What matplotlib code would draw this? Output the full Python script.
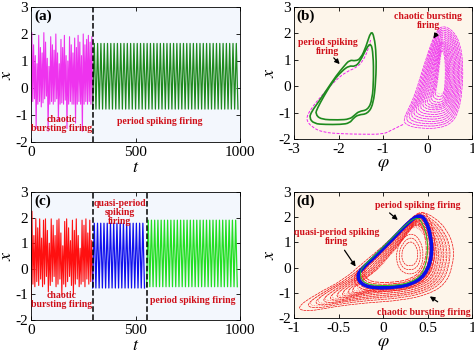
import numpy as np
import matplotlib
matplotlib.use('Agg')
from matplotlib import pyplot as plt
from matplotlib.path import Path
import matplotlib.patches as mpatches

plt.rcParams['font.family'] = ['Liberation Serif', 'DejaVu Serif']
plt.rcParams['mathtext.fontset'] = 'stix'
plt.rcParams['font.size'] = 11

# ---- panel (a): time series ----
a_chaos_peaks = [2.05, 1.6, 1.2, 0.9, 1.95, 1.5, 1.3, 2.05, 1.7, 1.1, 0.8, 1.9, 1.6, 1.4, 2.0, 1.3,
                 0.9, 1.8, 1.5, 1.95, 1.2, 1.0, 1.9, 1.6, 1.3, 1.85, 1.5, 1.95, 1.7, 1.2, 2.0, 1.6,
                 1.8, 1.95, 1.7, 1.9]
a_chaos_troughs = [-0.6, -0.5, -0.4, -1.5, -0.6, -0.5, -0.7, -0.55, -0.4, -0.3, -1.6, -0.6, -0.5, -0.6,
                   -0.5, -0.4, -1.2, -0.6, -0.55, -0.6, -0.45, -1.5, -0.6, -0.5, -0.6, -0.6, -1.3, -0.6,
                   -0.5, -0.6, -1.6, -0.6, -0.5, -0.6, -0.5, -0.6]
a_switch = 295
a_spike = {'period': 15.8, 'peak': 1.65, 'trough': -0.78}

# ---- panel (c): time series ----
c_chaos_peaks = [2.25, 1.3, 1.95, 1.6, 1.95, 1.2, 1.9, 1.95, 1.5, 1.0, 1.95, 1.7, 1.3, 1.9, 1.95, 1.4,
                 0.9, 1.85, 1.95, 1.6, 1.1, 1.9, 1.5, 1.95, 1.3, 0.8, 1.9, 1.7, 1.95, 1.4, 1.9, 1.1]
c_chaos_troughs = [-1.5, -0.6, -0.7, -0.5, -0.65, -0.4, -0.7, -0.6, -0.3, -0.9, -0.65, -0.5, -0.3, -0.7,
                   -0.6, -0.4, -1.0, -0.6, -0.7, -0.5, -0.3, -0.65, -1.0, -0.6, -0.4, -0.7, -0.6, -0.5,
                   -0.7, -0.4, -0.6, -0.5]
c_switch1 = 295
c_switch2 = 553
c_quasi = {'period': 15.5, 'peak': 1.78, 'trough': -0.75}
c_period = {'period': 15.5, 'peak': 1.9, 'trough': -0.7}

# ---- panel (b): phase portrait ----
b_green_outer_phi = [-2.66, -2.55, -2.3, -1.95, -1.75, -1.66, -1.55, -1.35, -1.22, -1.16, -1.15, -1.2,
                     -1.27, -1.38, -1.5, -1.62, -1.75, -1.88, -2.05, -2.25, -2.45, -2.6]
b_green_outer_x = [-1.2, -1.42, -1.45, -1.45, -1.4, -1.2, -1.08, -1.05, -0.7, 0.2, 1.2, 1.9,
                   2.1, 1.5, 1.05, 0.95, 1.0, 0.75, 0.4, -0.1, -0.6, -0.95]
b_green_inner_phi = [-2.52, -2.4, -2.0, -1.75, -1.64, -1.54, -1.34, -1.24, -1.21, -1.22, -1.27,
                     -1.37, -1.52, -1.63, -1.76, -1.92, -2.12, -2.32, -2.48]
b_green_inner_x = [-1.05, -1.26, -1.28, -1.25, -1.1, -0.95, -0.9, -0.5, 0.3, 1.2, 1.65,
                   1.45, 0.92, 0.74, 0.78, 0.58, 0.2, -0.35, -0.85]
b_trans_phi = [-0.55, -0.85, -1.0, -1.5, -1.95, -2.35, -2.6, -2.74, -2.62, -2.35, -2.05, -1.82,
               -1.6, -1.45, -1.33, -1.28]
b_trans_x = [-1.45, -1.7, -1.82, -1.82, -1.8, -1.75, -1.55, -1.25, -0.85, -0.3, 0.25, 0.55,
             0.7, 0.95, 1.4, 1.75]
b_chaos_phi = [0.35, 0.58, 0.74, 0.8, 0.78, 0.7, 0.55, 0.25, -0.15, -0.45, -0.55, -0.44, -0.3,
               -0.17, -0.04, 0.08, 0.2]
b_chaos_x = [2.3, 2.1, 1.6, 0.8, -0.2, -0.95, -1.4, -1.6, -1.6, -1.5, -1.3, -0.9, -0.4, 0.3,
             1.0, 1.6, 2.1]
b_loop_sx = [1.0, 0.93, 0.86, 0.8, 0.74, 0.68, 0.62, 0.56, 0.5, 0.44, 0.38, 0.32, 0.27, 0.22, 0.17]
b_loop_sy = [1.0, 0.96, 0.92, 0.88, 0.84, 0.8, 0.76, 0.72, 0.68, 0.65, 0.62, 0.59, 0.55, 0.5, 0.45]

# ---- panel (d): phase portrait ----
d_blue_phi = [-0.29, -0.25, -0.1, 0.15, 0.32, 0.47, 0.55, 0.54, 0.48, 0.41, 0.3, 0.1, -0.1, -0.23]
d_blue_x = [-0.3, -0.66, -0.82, -0.78, -0.66, -0.32, 0.4, 1.25, 1.9, 2.1, 1.85, 1.1, 0.4, -0.02]
d_green_phi = [-0.26, -0.22, -0.08, 0.15, 0.3, 0.44, 0.5, 0.5, 0.44, 0.39, 0.28, 0.08, -0.12, -0.24]
d_green_x = [-0.28, -0.6, -0.72, -0.7, -0.6, -0.3, 0.4, 1.2, 1.8, 2.0, 1.8, 1.1, 0.4, 0.0]
d_chaos_phi = [0.42, 0.58, 0.72, 0.8, 0.78, 0.7, 0.52, 0.22, -0.2, -0.55, -0.85, -0.98, -0.75, -0.45,
               -0.22, 0.05, 0.26]
d_chaos_x = [2.25, 2.0, 1.5, 0.8, 0.0, -0.65, -1.05, -1.3, -1.4, -1.55, -1.75, -1.6, -1.05, -0.5,
             0.2, 1.0, 1.75]
d_loop_sx = [1.0, 0.92, 0.85, 0.78, 0.72, 0.66, 0.61, 0.56, 0.52]
d_loop_sy = [1.0, 0.95, 0.9, 0.86, 0.82, 0.78, 0.75, 0.72, 0.69]
d_ring_phi = [0.32, 0.42, 0.46, 0.42, 0.3, 0.18, 0.14, 0.2]
d_ring_x = [1.4, 1.1, 0.5, -0.1, -0.3, -0.1, 0.5, 1.1]
d_ring_scale = [1.0, 0.8, 0.6]
d_hug_scale = [1.1, 1.05, 1.0, 0.95, 0.9, 0.85]


def zigzag(t, peaks, troughs):
    tt, xx = [], []
    step = (t[1] - t[0]) / (2 * len(peaks))
    for i, (p, q) in enumerate(zip(peaks, troughs)):
        tt += [t[0] + (2 * i) * step, t[0] + (2 * i + 1) * step]
        xx += [q, p]
    tt.append(t[1])
    xx.append(troughs[-1])
    return tt, xx


def spike_train(t0, t1, spec):
    n = int((t1 - t0) / spec['period'])
    tt, xx = [t0], [spec['trough']]
    for i in range(n):
        tt += [t0 + (i + 0.5) * spec['period'], t0 + (i + 1) * spec['period']]
        xx += [spec['peak'], spec['trough']]
    return tt, xx


def smooth_loop(ax, px, py, closed=True, **kw):
    pts = list(zip(px, py))
    n = len(pts)
    mid = lambda p, q: ((p[0] + q[0]) / 2, (p[1] + q[1]) / 2)
    if closed:
        verts = [mid(pts[-1], pts[0])]
        codes = [Path.MOVETO]
        for i in range(n):
            verts += [pts[i], mid(pts[i], pts[(i + 1) % n])]
            codes += [Path.CURVE3, Path.CURVE3]
    else:
        verts = [pts[0]]
        codes = [Path.MOVETO]
        for i in range(1, n - 1):
            verts += [pts[i], mid(pts[i], pts[i + 1])]
            codes += [Path.CURVE3, Path.CURVE3]
        verts.append(pts[-1])
        codes.append(Path.LINETO)
    ax.add_patch(mpatches.PathPatch(Path(verts, codes), fill=False, **kw))


def style_axes(ax, xlim, xticks, xlabel, bg):
    ax.set_facecolor(bg)
    ax.set_xlim(*xlim)
    ax.set_ylim(-2, 3)
    ax.set_xticks(xticks)
    ax.set_yticks([-2, -1, 0, 1, 2, 3])
    ax.tick_params(direction='in', length=3, width=0.6, top=True, right=True, labelsize=11, pad=2)
    ax.tick_params(axis='x', pad=3)
    for s in ax.spines.values():
        s.set_linewidth(0.6)
    ax.set_xlabel(xlabel, fontsize=13, labelpad=0)
    ax.set_ylabel('$x$', fontsize=13, labelpad=0)


fig = plt.figure(figsize=(4.74, 3.53), dpi=100)
W, H = 474, 353
def add_ax(l, t, r, b):
    return fig.add_axes([l / W, 1 - b / H, (r - l) / W, (b - t) / H])

axA = add_ax(31, 7, 240, 142)
axB = add_ax(294, 7, 472, 139)
axC = add_ax(31, 192, 240, 320)
axD = add_ax(294, 192, 472, 318)

txt = dict(color='#d0101a', fontweight='bold', fontsize=7, ha='center', va='center', linespacing=1.0)
blue_bg = '#f3f7fd'
beige_bg = '#fdf5ea'

# (a)
t, x = zigzag((0, a_switch), a_chaos_peaks, a_chaos_troughs)
axA.plot(t, x, color='#ee33ee', lw=0.8)
t, x = spike_train(a_switch, 1000, a_spike)
axA.plot(t, x, color='#1e8a1e', lw=0.9)
axA.axvline(a_switch, color='k', ls='--', lw=1.1)
style_axes(axA, (0, 1000), [0, 500, 1000], '$t$', blue_bg)
axA.text(147, -1.34, 'chaotic\nbursting firing', **txt)
axA.text(617, -1.25, 'period spiking firing', **txt)
axA.text(0.015, 0.98, '(a)', transform=axA.transAxes, fontweight='bold', va='top', fontsize=11)

# (c)
t, x = zigzag((0, c_switch1), c_chaos_peaks, c_chaos_troughs)
axC.plot(t, x, color='#ff1010', lw=0.8)
t, x = spike_train(c_switch1, c_switch2, c_quasi)
axC.plot(t, x, color='#1010ee', lw=0.9)
t, x = spike_train(c_switch2, 1000, c_period)
axC.plot(t, x, color='#22e022', lw=0.9)
axC.axvline(c_switch1, color='k', ls='--', lw=1.1)
axC.axvline(c_switch2, color='k', ls='--', lw=1.1)
style_axes(axC, (0, 1000), [0, 500, 1000], '$t$', blue_bg)
axC.text(147, -1.22, 'chaotic\nbursting firing', **txt)
axC.text(424, 2.2, 'quasi-period\nspiking\nfiring', **txt)
axC.text(772, -1.22, 'period spiking firing', **txt)
axC.text(0.015, 0.98, '(c)', transform=axC.transAxes, fontweight='bold', va='top', fontsize=11)

# (b)
smooth_loop(axB, b_trans_phi, b_trans_x, closed=False, color='#ee22ee', lw=0.7, ls=(0, (3, 1.5)))
for sx, sy in zip(b_loop_sx, b_loop_sy):
    px = [0.32 + sx * (p - 0.32) for p in b_chaos_phi]
    py = [0.6 + sy * (v - 0.6) for v in b_chaos_x]
    smooth_loop(axB, px, py, color='#ee22ee', lw=0.55, ls=(0, (4, 1)))
    px = [0.34 + 0.95 * sx * (p - 0.34) for p in b_chaos_phi]
    py = [0.7 + 0.96 * sy * (v - 0.7) for v in b_chaos_x]
    smooth_loop(axB, px, py, color='#f050f0', lw=0.45, ls=':')
smooth_loop(axB, b_green_outer_phi, b_green_outer_x, color='#1e8a1e', lw=1.2)
smooth_loop(axB, b_green_inner_phi, b_green_inner_x, color='#1e8a1e', lw=1.2)
style_axes(axB, (-3, 1), [-3, -2, -1, 0, 1], r'$\varphi$', beige_bg)
axB.text(-2.24, 1.5, 'period spiking\nfiring', **txt)
axB.annotate('', xy=(-1.93, 0.76), xytext=(-2.15, 1.15),
             arrowprops=dict(arrowstyle='-|>', color='k', lw=0.9, mutation_scale=7))
axB.text(0.02, 2.47, 'chaotic bursting\nfiring', **txt)
axB.annotate('', xy=(0.1, 1.72), xytext=(0.24, 2.08),
             arrowprops=dict(arrowstyle='-|>', color='k', lw=0.9, mutation_scale=7))
axB.text(0.015, 0.98, '(b)', transform=axB.transAxes, fontweight='bold', va='top', fontsize=11)

# (d)
for sx, sy in zip(d_loop_sx, d_loop_sy):
    px = [0.3 + sx * (p - 0.3) for p in d_chaos_phi]
    py = [0.6 + sy * (v - 0.6) for v in d_chaos_x]
    smooth_loop(axD, px, py, color='#ee1010', lw=0.5, ls=(0, (4, 1)))
    px = [0.28 + 0.9 * sx * (p - 0.28) for p in d_chaos_phi]
    py = [0.6 + 0.92 * sy * (v - 0.6) for v in d_chaos_x]
    smooth_loop(axD, px, py, color='#ff2020', lw=0.45, ls=':')
for s in d_ring_scale:
    px = [0.3 + s * (p - 0.3) for p in d_ring_phi]
    py = [0.55 + s * (v - 0.55) for v in d_ring_x]
    smooth_loop(axD, px, py, color='#ee1010', lw=0.5, ls=(0, (3, 1)))
for s in d_hug_scale:
    px = [0.15 + s * (p - 0.15) for p in d_blue_phi]
    py = [0.6 + s * (v - 0.6) for v in d_blue_x]
    smooth_loop(axD, px, py, color='#ff1a1a', lw=0.6, ls=(0, (5, 1)))
smooth_loop(axD, d_blue_phi, d_blue_x, color='#0a10e8', lw=2.6)
smooth_loop(axD, d_green_phi, d_green_x, color='#22c022', lw=0.7)
style_axes(axD, (-1, 1), [-1, -0.5, 0, 0.5, 1], r'$\varphi$', beige_bg)
axD.set_xticklabels(['-1', '-0.5', '0', '0.5', '1'])
axD.text(0.39, 2.48, 'period spiking firing', **txt)
axD.annotate('', xy=(0.19, 1.82), xytext=(0.05, 2.24),
             arrowprops=dict(arrowstyle='-|>', color='k', lw=0.9, mutation_scale=7))
axD.text(-0.52, 1.22, 'quasi-period spiking\nfiring', **txt)
axD.annotate('', xy=(-0.29, -0.05), xytext=(-0.45, 0.78),
             arrowprops=dict(arrowstyle='-|>', color='k', lw=0.9, mutation_scale=7))
axD.text(0.46, -1.77, 'chaotic bursting firing', **txt)
axD.annotate('', xy=(0.5, -1.08), xytext=(0.64, -1.42),
             arrowprops=dict(arrowstyle='-|>', color='k', lw=0.9, mutation_scale=7))
axD.text(0.015, 0.98, '(d)', transform=axD.transAxes, fontweight='bold', va='top', fontsize=11)

for ax in (axA, axB, axC, axD):
    ax.set_yticklabels(['-2', '-1', '0', '1', '2', '3'])
axA.set_xticklabels(['0', '500', '1000'])
axC.set_xticklabels(['0', '500', '1000'])
axB.set_xticklabels(['-3', '-2', '-1', '0', '1'])

fig.savefig('out.png', dpi=100)
